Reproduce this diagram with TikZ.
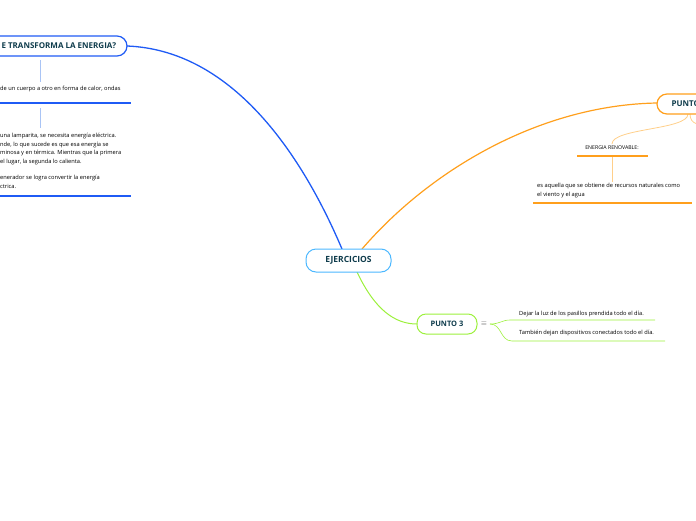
\documentclass[tikz,border=0pt]{standalone}
\usepackage{fontspec}
\setmainfont{Open Sans}
\begin{document}
\begin{tikzpicture}[x=1pt,y=-1pt,
  small/.style={font=\fontsize{5.7}{8.6}\selectfont,inner sep=0pt,anchor=north west,align=left},
  title/.style={font=\fontsize{8}{9}\selectfont\bfseries},
  mbox/.style={rounded corners=10pt,line width=1.2pt,fill=white}]
\useasboundingbox (0,0) rectangle (696,520);
\clip (0,0) rectangle (696,520);
\definecolor{bl}{HTML}{1F5BF5}
\definecolor{lbl}{HTML}{A9C4F5}
\definecolor{org}{HTML}{FF9F1C}
\definecolor{lorg}{HTML}{FFCF8A}
\definecolor{grn}{HTML}{9CF03C}
\definecolor{dk}{HTML}{0F3C4C}
% connectors
\draw[bl,line width=1.3pt] (342,249) .. controls (300,150) and (230,50) .. (127,46);
\draw[org,line width=1.2pt] (362,249) .. controls (430,170) and (540,105) .. (657,103);
\draw[grn,line width=1pt] (357,272) .. controls (375,310) and (395,324) .. (417,324);
% left box
\draw[mbox,draw=bl] (-120,36) rectangle (127,56);
\node[title,text=dk,anchor=west] (t1) at (-2,46) {E TRANSFORMA LA ENERGIA?};
\draw[lbl,line width=0.8pt] (40,60) -- (40,82);
\node[small] (a1) at (0,86) {de un cuerpo a otro en forma de calor, ondas};
\draw[bl,line width=1.2pt] (0,103) -- (131,103);
\draw[lbl,line width=0.8pt] (40,108) -- (40,128);
\node[small] (a2) at (0,133) {una lamparita, se necesita energía eléctrica.\\nde, lo que sucede es que esa energía se\\minosa y en térmica. Mientras que la primera\\el lugar, la segunda lo calienta.};
\node[small] (a3) at (0,175) {enerador se logra convertir la energía\\ctrica.};
\draw[bl,line width=1.2pt] (0,196) -- (131,196);
% center
\node[draw=blue!40!cyan!70,line width=1pt,rounded corners=10pt,fill=white,minimum width=85pt,minimum height=23pt,font=\fontsize{8.5}{9}\selectfont\bfseries,text=dk] (ej) at (348.5,260.5) {EJERCICIOS};
% punto 2
\draw[lorg,line width=0.8pt] (688,114) .. controls (688,130) and (612,128) .. (612,144);
\draw[lorg,line width=0.8pt] (690,114) .. controls (690,125) and (700,125) .. (710,125);
\draw[mbox,draw=org] (657,94) rectangle (740,114);
\node[title,text=dk,anchor=west] (p2) at (668,104) {PUNTO 2};
\node[small,anchor=center,font=\fontsize{5.2}{6}\selectfont] (er) at (612,148) {ENERGIA RENOVABLE:};
\draw[org,line width=1.2pt] (577,156) -- (648,156);
\draw[lorg,line width=0.8pt] (612,157) -- (612,182);
\node[small] (ev) at (537,183) {es aquella que se obtiene de recursos naturales como\\el viento y el agua};
\draw[org,line width=1.2pt] (533,203) -- (692,203);
% punto 3
\node[draw=grn,line width=1pt,rounded corners=9pt,fill=white,minimum width=60pt,minimum height=20pt,font=\fontsize{7.5}{8}\selectfont\bfseries,text=dk] (p3) at (447,324) {PUNTO 3};
\node[font=\fontsize{7}{8}\selectfont,text=black!60] (eq) at (484,324) {$\equiv$};
\draw[grn,line width=0.6pt] (490,324) .. controls (500,324) and (502,320) .. (510,320) -- (655,320);
\draw[grn,line width=0.6pt] (490,324) .. controls (502,324) and (500,341) .. (512,341) -- (665,341);
\node[small] (d1) at (519,311) {Dejar la luz de los pasillos prendida todo el día.};
\node[small] (d2) at (519,330) {También dejan dispositivos conectados todo el día.};
\end{tikzpicture}
\end{document}
